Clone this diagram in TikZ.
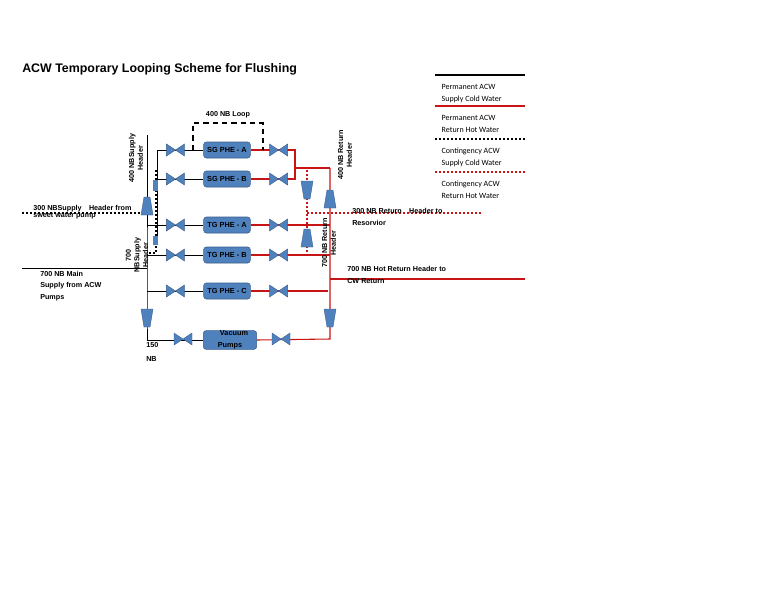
\documentclass[tikz,border=0pt]{standalone}
\usepackage{fontspec}
\setmainfont{Liberation Sans}
\newfontfamily\calfont{Carlito}
\usetikzlibrary{positioning}
\definecolor{valveblue}{RGB}{79,129,189}
\definecolor{valveedge}{RGB}{56,93,138}
\definecolor{pipered}{RGB}{200,20,20}
\tikzset{
  phe/.style={draw=valveedge, fill=valveblue, rounded corners=2pt, minimum width=35pt, minimum height=12pt, inner sep=0pt, font=\fontsize{5.5}{6}\bfseries},
  lbl/.style={font=\fontsize{5.4}{6.5}\bfseries, align=left, inner sep=0pt},
  sup/.style={black, line width=0.7pt},
  ret/.style={pipered, line width=0.8pt},
  cdot/.style={black, line width=1.6pt, dash pattern=on 1.4pt off 1.6pt},
  rdot/.style={pipered, line width=1.6pt, dash pattern=on 1.4pt off 1.6pt},
  valve/.pic={\fill[valveblue, draw=valveedge, line width=0.3pt] (-9,-6) -- (9,6) -- (9,-6) -- (-9,6) -- cycle;},
  nrv down/.pic={\fill[valveblue, draw=valveedge, line width=0.3pt] (-6,-9) -- (6,-9) -- (3,9) -- (-3,9) -- cycle;},
  nrv up/.pic={\fill[valveblue, draw=valveedge, line width=0.3pt] (-6,9) -- (6,9) -- (3,-9) -- (-3,-9) -- cycle;}
}
\begin{document}
\begin{tikzpicture}[x=0.75pt, y=-0.75pt, line cap=butt]
            \useasboundingbox (0,0) rectangle (768,594);
            % title
            \node[anchor=west, inner sep=0pt, font=\fontsize{9.3}{10}\bfseries] (title) at (22,69) {ACW Temporary Looping Scheme for Flushing};
            % legend
            \draw[black, line width=0.8pt] (435,75) -- (525,75);
            \node[anchor=west, align=left, font=\calfont\fontsize{6}{9}\selectfont] (lgA) at (437,94) {Permanent ACW\\Supply Cold Water};
            \draw[ret] (435,106) -- (525,106);
            \node[anchor=west, align=left, font=\calfont\fontsize{6}{9}\selectfont] (lgB) at (437,124) {Permanent ACW\\Return Hot Water};
            \draw[cdot] (435,139) -- (525,139);
            \node[anchor=west, align=left, font=\calfont\fontsize{6}{9}\selectfont] (lgC) at (437,157) {Contingency ACW\\Supply Cold Water};
            \draw[rdot] (435,172) -- (525,172);
            \node[anchor=west, align=left, font=\calfont\fontsize{6}{9}\selectfont] (lgD) at (437,190) {Contingency ACW\\Return Hot Water};
            % contingency lines
            \draw[cdot] (22,213) -- (146,213);
            \draw[cdot] (156,170) -- (156,253) -- (148,253);
            \draw[rdot] (307,170) -- (307,252);
            \draw[rdot] (307,213) -- (482,213);
            % heat exchangers
            \node[phe] (sgA) at (227,150) {SG PHE - A};
            \node[phe] (sgB) at (227,179) {SG PHE - B};
            \node[phe] (tgA) at (227,225) {TG PHE - A};
            \node[phe] (tgB) at (227,255) {TG PHE - B};
            \node[phe] (tgC) at (227,291) {TG PHE - C};
            \node[phe, minimum width=40pt, font=\fontsize{5.5}{9}\bfseries, align=center] (vac) at (230,340) {\hspace*{6pt}Vacuum\\Pumps};
            % supply side
            \draw[sup] (147,135) -- (147,318) |- (vac.west);
            \draw[sup] (22,268) -- (147,268);
            \draw[sup] (157,150) -- (157,237);
            \foreach \r/\x in {sgA/157, sgB/157, tgA/147, tgB/147, tgC/147} {
              \draw[sup] (\x,0 |- \r) -- (\r.west);
            }
            % return side
            \draw[ret] (sgA.east) -| (295,179) -- (sgB.east);
            \draw[ret] (295,168) -- (330,168);
            \draw[ret] (tgA.east) -- (330,225);
            \draw[ret] (tgB.east) -- (330,255);
            \draw[ret] (tgC.east) -- (328,291);
            \draw[ret] (330,168) -- (330,339) -- (vac.east);
            \draw[ret] (330,279) -- (525,279);
            % isolating valves
            \foreach \r in {sgA, sgB, tgA, tgB, tgC} {
              \pic at ([xshift=-21] \r.west) {valve};
              \pic at ([xshift=21] \r.east) {valve};
            }
            \pic at (183,339) {valve};
            \pic at (281,339) {valve};
            % 400 NB loop
            \draw[black, line width=1.2pt, dash pattern=on 4pt off 3pt] (193,150) -- (193,123) -- (263,123) -- (263,150);
            % check valves
            \pic at (147,206) {nrv up};
            \pic at (147,318) {nrv down};
            \pic at (330,199) {nrv up};
            \pic at (330,318) {nrv down};
            \pic at (307,190) {nrv down};
            \pic at (307,238) {nrv up};
            \fill[valveblue] (153,180) rectangle (158,191);
            \fill[valveblue] (153,236) rectangle (158,245);
            % labels
            \node[lbl] (lLoop) at (228,115) {400 NB Loop};
            \node[lbl, rotate=90, align=center] (lSup4) at (136,158) {400 NBSupply\\Header};
            \node[lbl, anchor=west] (lSup3) at (33,212) {300 NBSupply\hspace{4pt} Header from\\[-1.5pt]sweet water pump};
            \node[lbl, rotate=90, align=center] (lSup7) at (137,255) {700\\NBSupply\\Header};
            \node[lbl, anchor=north west, font=\fontsize{5.4}{8.5}\bfseries] (lMain) at (40,271) {700 NB Main\\Supply from ACW\\Pumps};
            \node[lbl, anchor=north west, font=\fontsize{5.4}{11}\bfseries] (l150) at (146,342) {150\\NB};
            \node[lbl, rotate=90, align=center] (lRet4) at (345,155) {400 NB Return\\Header};
            \node[lbl, anchor=west, font=\fontsize{5.4}{9}\bfseries] (lRet3) at (352,217) {300 NB Return\hspace{4pt} Header to\\Resorvior};
            \node[lbl, rotate=90, align=center] (lRet7) at (329,243) {700 NB Return\\Header};
            \node[lbl, anchor=west, font=\fontsize{5.4}{9}\bfseries] (lHot) at (347,275) {700 NB Hot Return Header to\\CW Return};
\end{tikzpicture}
\end{document}
